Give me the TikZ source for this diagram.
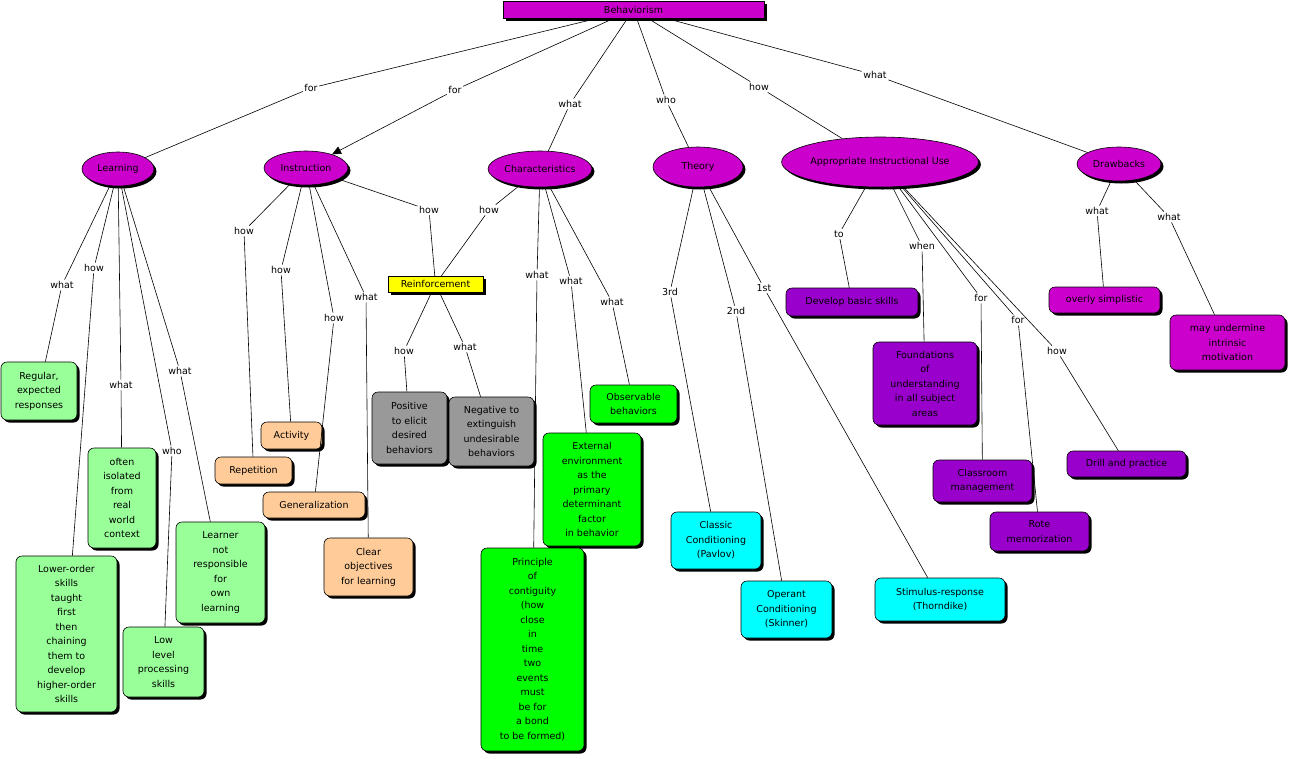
\documentclass[tikz,border=0pt]{standalone}
\usepackage{fontspec}
\setmainfont{DejaVu Sans}
\usetikzlibrary{shapes.geometric,shadows,arrows.meta}
\definecolor{mag}{HTML}{CC00CC}
\definecolor{pur}{HTML}{9900CC}
\definecolor{grn}{HTML}{00FF00}
\definecolor{lgr}{HTML}{99FF99}
\definecolor{org}{HTML}{FFCC99}
\definecolor{gry}{HTML}{999999}
\definecolor{cyn}{HTML}{00FFFF}
\definecolor{yel}{HTML}{FFFF00}
\begin{document}
\begin{tikzpicture}[x=1pt,y=-1pt,
 every node/.style={font=\fontsize{9.5}{14.5}\selectfont,align=center,inner sep=1pt},
 shd/.style={drop shadow={shadow xshift=2.5pt,shadow yshift=-2.5pt,fill=black,opacity=1}},
 box/.style={draw=black,rounded corners=6pt,shd,line width=0.6pt},
 ell/.style={ellipse,draw=black,fill=mag,shd,line width=0.6pt,inner sep=0pt},
 lab/.style={fill=white,inner sep=1.5pt},
 ln/.style={line width=0.6pt}]
\useasboundingbox (0,0) rectangle (1292,758);
% main
\node[draw=black,fill=mag,shd,minimum width=261,minimum height=17] (B) at (633.5,9.5) {Behaviorism};
\node[ell,minimum width=72,minimum height=34] (L) at (118,169) {Learning};
\node[ell,minimum width=84,minimum height=34] (I) at (306,168) {Instruction};
\node[ell,minimum width=104,minimum height=36] (C) at (540,169) {Characteristics};
\node[ell,minimum width=90,minimum height=40] (T) at (698,167) {Theory};
\node[ell,minimum width=188,minimum height=50] (A) at (880,162) {Appropriate Instructional Use};
\node[ell,minimum width=84,minimum height=34] (D) at (1119,164) {Drawbacks};
\node[draw=black,fill=yel,shd,minimum width=95,minimum height=16] (R) at (435.5,284) {Reinforcement};
% leaves
\node[box,fill=lgr,minimum width=76,minimum height=58] (L1) at (39,391) {Regular,\\expected\\responses};
\node[box,fill=lgr,minimum width=68,minimum height=100] (L2) at (122,498) {often\\isolated\\from\\real\\world\\context};
\node[box,fill=lgr,minimum width=101,minimum height=156] (L3) at (66.5,634) {Lower-order\\skills\\taught\\first\\then\\chaining\\them to\\develop\\higher-order\\skills};
\node[box,fill=lgr,minimum width=81,minimum height=70] (L4) at (163.5,662) {Low\\level\\processing\\skills};
\node[box,fill=lgr,minimum width=89,minimum height=101] (L5) at (220.5,572.5) {Learner\\not\\responsible\\for\\own\\learning};
\node[box,fill=org,minimum width=77,minimum height=27] (I1) at (253.5,470.5) {Repetition};
\node[box,fill=org,minimum width=61,minimum height=27] (I2) at (291.5,435.5) {Activity};
\node[box,fill=org,minimum width=102,minimum height=26] (I3) at (314,505) {Generalization};
\node[box,fill=org,minimum width=89,minimum height=58] (I4) at (368.5,567) {Clear\\objectives\\for learning};
\node[box,fill=gry,minimum width=75,minimum height=72] (R1) at (409.5,428) {Positive\\to elicit\\desired\\behaviors};
\node[box,fill=gry,minimum width=85,minimum height=69] (R2) at (491.5,431.5) {Negative to\\extinguish\\undesirable\\behaviors};
\node[box,fill=grn,minimum width=87,minimum height=38] (C1) at (633.5,404) {Observable\\behaviors};
\node[box,fill=grn,minimum width=98,minimum height=113] (C2) at (592,489.5) {External\\environment\\as the\\primary\\determinant\\factor\\in behavior};
\node[box,fill=grn,minimum width=103,minimum height=203] (C3) at (532.5,649.5) {Principle\\of\\contiguity\\(how\\close\\in\\time\\two\\events\\must\\be for\\a bond\\to be formed)};
\node[box,fill=cyn,minimum width=90,minimum height=57] (T1) at (716,540.5) {Classic\\Conditioning\\(Pavlov)};
\node[box,fill=cyn,minimum width=91,minimum height=57] (T2) at (786.5,609.5) {Operant\\Conditioning\\(Skinner)};
\node[box,fill=cyn,minimum width=130,minimum height=43] (T3) at (940,599.5) {Stimulus-response\\(Thorndike)};
\node[box,fill=pur,minimum width=132,minimum height=28] (A1) at (852,302) {Develop basic skills};
\node[box,fill=pur,minimum width=104,minimum height=83] (A2) at (925,383.5) {Foundations\\of\\understanding\\in all subject\\areas};
\node[box,fill=pur,minimum width=99,minimum height=42] (A3) at (982.5,481) {Classroom\\management};
\node[box,fill=pur,minimum width=99,minimum height=39] (A4) at (1039.5,531.5) {Rote\\memorization};
\node[box,fill=pur,minimum width=119,minimum height=26] (A5) at (1126.5,464) {Drill and practice};
\node[box,fill=mag,minimum width=111,minimum height=26] (D1) at (1104.5,300) {overly simplistic};
\node[box,fill=mag,minimum width=115,minimum height=55] (D2) at (1227.5,342.5) {may undermine\\intrinsic\\motivation};
% link labels
\node[lab] (b1) at (311,88) {for};
\node[lab] (b2) at (455,90) {for};
\node[lab] (b3) at (570,104) {what};
\node[lab] (b4) at (666,100) {who};
\node[lab] (b5) at (759,87) {how};
\node[lab] (b6) at (875,75) {what};
\node[lab] (l1) at (62,285) {what};
\node[lab] (l2) at (94,268) {how};
\node[lab] (l3) at (121,385) {what};
\node[lab] (l4) at (172,451) {who};
\node[lab] (l5) at (180,371) {what};
\node[lab] (i1) at (244,231) {how};
\node[lab] (i2) at (281,270) {how};
\node[lab] (i3) at (334,318) {how};
\node[lab] (i4) at (366,297) {what};
\node[lab] (i5) at (429,210) {how};
\node[lab] (c0) at (489,210) {how};
\node[lab] (c3) at (537,275) {what};
\node[lab] (c2) at (571,281) {what};
\node[lab] (c1) at (612,302) {what};
\node[lab] (r1) at (404,351) {how};
\node[lab] (r2) at (465,347) {what};
\node[lab] (t1) at (670,292) {3rd};
\node[lab] (t2) at (736,311) {2nd};
\node[lab] (t3) at (764,288) {1st};
\node[lab] (a1) at (839,234) {to};
\node[lab] (a2) at (922,246) {when};
\node[lab] (a3) at (981,298) {for};
\node[lab] (a4) at (1018,320) {for};
\node[lab] (a5) at (1057,351) {how};
\node[lab] (d1) at (1097,211) {what};
\node[lab] (d2) at (1169,217) {what};
% connectors
\begin{scope}[ln]
\draw (B) -- (b1) -- (L);
\draw (B) -- (b2); \draw[-{Triangle[length=9pt,width=8pt]}] (b2) -- (I);
\draw (B) -- (b3) -- (C);
\draw (B) -- (b4) -- (T);
\draw (B) -- (b5) -- (A);
\draw (B) -- (b6) -- (D);
\draw (L) -- (l1) -- (L1);
\draw (L) -- (l2) -- (L3);
\draw (L) -- (l3) -- (L2);
\draw (L) -- (l4) -- (L4);
\draw (L) -- (l5) -- (L5);
\draw (I) -- (i1) -- (I1);
\draw (I) -- (i2) -- (I2);
\draw (I) -- (i3) -- (I3);
\draw (I) -- (i4) -- (I4);
\draw (I) -- (i5) -- (R);
\draw (C) -- (c0) -- (R);
\draw (C) -- (c3) -- (C3);
\draw (C) -- (c2) -- (C2);
\draw (C) -- (c1) -- (C1);
\draw (R) -- (r1) -- (R1);
\draw (R) -- (r2) -- (R2);
\draw (T) -- (t1) -- (T1);
\draw (T) -- (t2) -- (T2);
\draw (T) -- (t3) -- (T3);
\draw (A) -- (a1) -- (A1);
\draw (A) -- (a2) -- (A2);
\draw (A) -- (a3) -- (A3);
\draw (A) -- (a4) -- (A4);
\draw (A) -- (a5) -- (A5);
\draw (D) -- (d1) -- (D1);
\draw (D) -- (d2) -- (D2);
\end{scope}
\end{tikzpicture}
\end{document}
